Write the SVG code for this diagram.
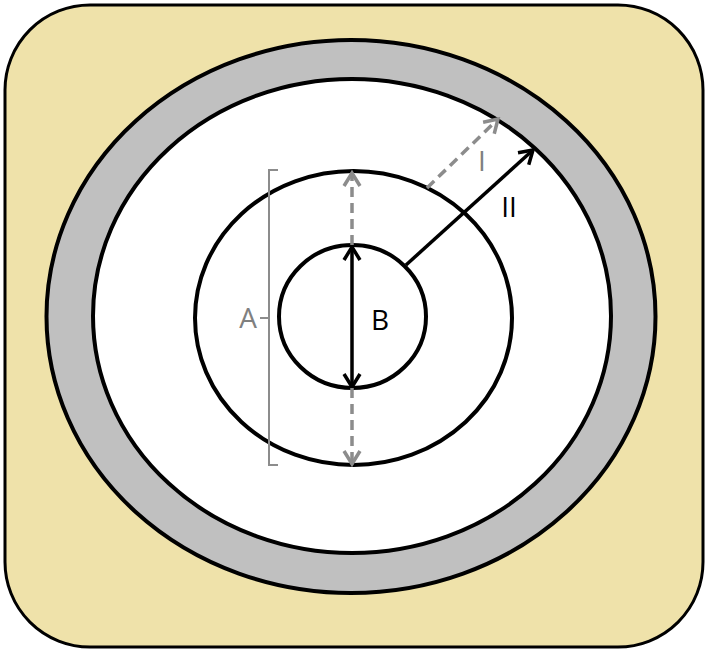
<svg xmlns="http://www.w3.org/2000/svg" width="709" height="652" viewBox="0 0 709 652">
<defs>
<style>
.ring{stroke:#000;stroke-width:4}
.blk{stroke:#000;stroke-width:3.5;fill:none}
.gry{stroke:#8c8c8c;stroke-width:3.5;fill:none;stroke-dasharray:10 6}
.brk{stroke:#8c8c8c;stroke-width:2;fill:none}
.lbl{font-family:"Open Sans","Liberation Sans",sans-serif;font-size:28px;text-anchor:middle}
</style>
<marker id="hb" viewBox="0 0 20 20" refX="17" refY="10" markerWidth="20" markerHeight="20" markerUnits="userSpaceOnUse" orient="auto-start-reverse">
<path d="M4,2 L17,10 L4,18" fill="none" stroke="#000" stroke-width="3.5"/>
</marker>
<marker id="hg" viewBox="0 0 20 20" refX="17" refY="10" markerWidth="20" markerHeight="20" markerUnits="userSpaceOnUse" orient="auto">
<path d="M4,2 L17,10 L4,18" fill="none" stroke="#8c8c8c" stroke-width="3.5"/>
</marker>
</defs>
<g id="background">
<rect x="5" y="5" width="698" height="642" rx="85" ry="85" fill="#efe2aa" stroke="#000" stroke-width="3"/>
</g>
<g id="outer-ring">
<ellipse cx="351" cy="316.5" rx="304.5" ry="276.5" fill="#c0c0c0" class="ring"/>
</g>
<g id="inner-area">
<ellipse cx="352" cy="316" rx="259" ry="237" fill="#fff" class="ring"/>
</g>
<g id="middle">
<ellipse cx="353.5" cy="318" rx="158.5" ry="147" fill="none" class="ring"/>
</g>
<g id="core">
<ellipse cx="352.5" cy="316.5" rx="73.5" ry="71.5" fill="none" class="ring"/>
</g>
<g id="connectors">
<line x1="352" y1="247" x2="352" y2="387" class="blk" marker-start="url(#hb)" marker-end="url(#hb)"/>
<line x1="352" y1="245" x2="352" y2="173" class="gry" marker-end="url(#hg)"/>
<line x1="352" y1="388" x2="352" y2="464" class="gry" marker-end="url(#hg)"/>
<line x1="427" y1="188" x2="498" y2="119" class="gry" marker-end="url(#hg)"/>
<line x1="406" y1="265" x2="533" y2="150" class="blk" marker-end="url(#hb)"/>
<path d="M278,170 H269 V465 H278 M269,318 H260" class="brk"/>
</g>
<g id="labels">
<text x="248" y="328" class="lbl" fill="#808080">A</text>
<text x="380" y="330" class="lbl" fill="#000">B</text>
<text x="482" y="171" class="lbl" fill="#808080">I</text>
<text x="509" y="217" class="lbl" fill="#000">II</text>
</g>
</svg>
